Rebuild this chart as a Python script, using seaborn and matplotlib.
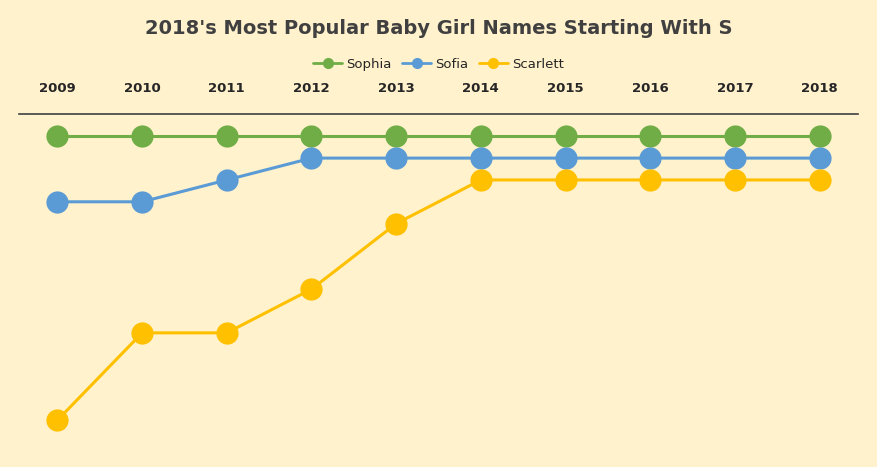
import matplotlib
matplotlib.use("Agg")
import matplotlib.pyplot as plt
import seaborn as sns
import pandas as pd

years = [2009, 2010, 2011, 2012, 2013, 2014, 2015, 2016, 2017, 2018]
sophia = [1, 1, 1, 1, 1, 1, 1, 1, 1, 1]
sofia = [4, 4, 3, 2, 2, 2, 2, 2, 2, 2]
scarlett = [14, 10, 10, 8, 5, 3, 3, 3, 3, 3]
names = ["Sophia", "Sofia", "Scarlett"]
colors = ["#70AD47", "#5B9BD5", "#FFC000"]

df = pd.DataFrame({"year": years * 3,
                   "rank": sophia + sofia + scarlett,
                   "name": [n for n in names for _ in years]})

sns.set_theme(style="white")
plt.rcParams['font.family'] = ['DejaVu Sans']
bg = "#FFF2CC"
fig = plt.figure(figsize=(8.77, 4.67), dpi=100, facecolor=bg)
ax = fig.add_axes([0.022, 0.03, 0.956, 0.725])
ax.set_facecolor(bg)
sns.lineplot(data=df, x="year", y="rank", hue="name", palette=colors,
             marker="o", markersize=16, markeredgewidth=0, linewidth=2.2,
             ax=ax, legend=False)
ax.set_ylim(15.5, 0)
ax.set_xlim(2008.55, 2018.45)
ax.set_yticks([])
ax.set_xticks(years)
ax.xaxis.tick_top()
ax.tick_params(axis="x", length=0, pad=14, labelsize=9.5)
for t in ax.get_xticklabels():
    t.set_fontweight("bold")
for s in ["left", "right", "bottom"]:
    ax.spines[s].set_visible(False)
ax.spines["top"].set_color("#404040")
ax.spines["top"].set_linewidth(1.2)
ax.set_xlabel("")
ax.set_ylabel("")

from matplotlib.lines import Line2D
handles = [Line2D([], [], color=c, marker="o", markersize=7, linewidth=2) for c in colors]
fig.legend(handles, names, loc="center", bbox_to_anchor=(0.5, 0.862), ncol=3,
           frameon=False, fontsize=9.5, handlelength=2.2, columnspacing=0.8,
           handletextpad=0.3)
fig.text(0.5, 0.94, "2018's Most Popular Baby Girl Names Starting With S",
         ha="center", va="center", fontsize=14, fontweight="bold", color="#404040")
fig.savefig("out.png", dpi=100, facecolor=bg)
